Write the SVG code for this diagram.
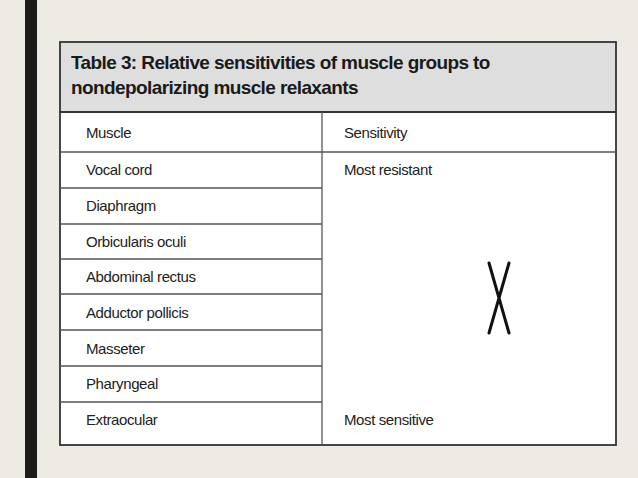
<svg xmlns="http://www.w3.org/2000/svg" width="638" height="478" viewBox="0 0 638 478">
<style>
.t{font-family:"Liberation Sans",Arial,sans-serif;font-size:15px;fill:#222;letter-spacing:-0.4px}
.h{font-family:"Liberation Sans",Arial,sans-serif;font-size:19px;font-weight:bold;fill:#1a1a1a;letter-spacing:-0.6px}
.l{stroke:#555;stroke-width:1.3}
</style>
<rect width="638" height="478" fill="#eeebe5"/>
<rect x="25" y="0" width="12" height="478" fill="#1e1c1a"/>
<g id="table">
<rect x="60" y="42" width="556" height="403" fill="#fff"/>
<rect x="60" y="42" width="556" height="70" fill="#dedede"/>
<text class="h" x="71" y="69">Table 3: Relative sensitivities of muscle groups to</text>
<text class="h" x="71" y="94">nondepolarizing muscle relaxants</text>
<rect x="60" y="42" width="556" height="403" fill="none" stroke="#333" stroke-width="1.8"/>
<line x1="60" y1="112" x2="616" y2="112" stroke="#333" stroke-width="2"/>
<line class="l" x1="322" y1="112" x2="322" y2="445"/>
<line class="l" x1="60" y1="152" x2="616" y2="152"/>
<line class="l" x1="60" y1="188" x2="322" y2="188"/>
<line class="l" x1="60" y1="224" x2="322" y2="224"/>
<line class="l" x1="60" y1="259" x2="322" y2="259"/>
<line class="l" x1="60" y1="294" x2="322" y2="294"/>
<line class="l" x1="60" y1="330" x2="322" y2="330"/>
<line class="l" x1="60" y1="366" x2="322" y2="366"/>
<line class="l" x1="60" y1="402" x2="322" y2="402"/>
<text class="t" x="86" y="138">Muscle</text>
<text class="t" x="344" y="138">Sensitivity</text>
<text class="t" x="86" y="175">Vocal cord</text>
<text class="t" x="344" y="175">Most resistant</text>
<text class="t" x="86" y="211">Diaphragm</text>
<text class="t" x="86" y="247">Orbicularis oculi</text>
<text class="t" x="86" y="282">Abdominal rectus</text>
<text class="t" x="86" y="318">Adductor pollicis</text>
<text class="t" x="86" y="354">Masseter</text>
<text class="t" x="86" y="389">Pharyngeal</text>
<text class="t" x="86" y="425">Extraocular</text>
<text class="t" x="344" y="425">Most sensitive</text>
<path d="M489,263 L509,333 M509,263 L489,333" fill="none" stroke="#111" stroke-width="3" stroke-linecap="round"/>
</g>
</svg>
